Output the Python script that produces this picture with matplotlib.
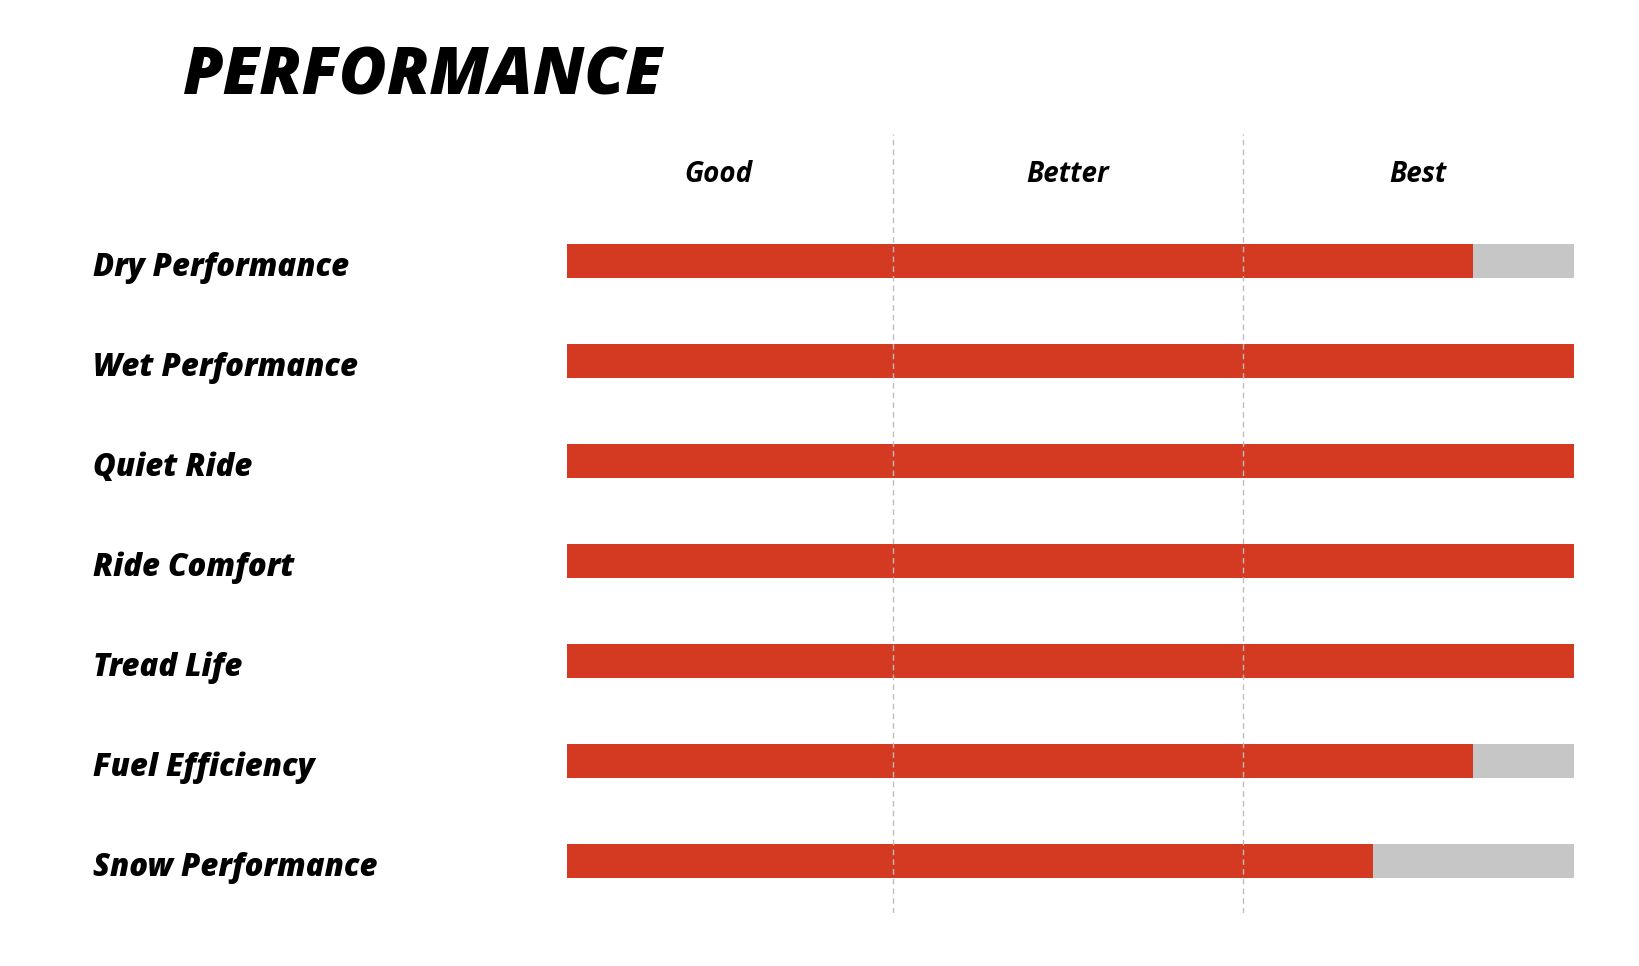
import matplotlib
matplotlib.use("Agg")
import matplotlib.pyplot as plt
from matplotlib.transforms import blended_transform_factory

categories = ["Dry Performance", "Wet Performance", "Quiet Ride", "Ride Comfort",
              "Tread Life", "Fuel Efficiency", "Snow Performance"]
scores = [9, 10, 10, 10, 10, 9, 8]
max_score = 10
levels = ["Good", "Better", "Best"]
level_centers = [1.50, 4.975, 8.45]
dividers = [3.237, 6.713]
title = "PERFORMANCE"

RED = "#D43A22"
GREY = "#C6C6C6"
FONT = "Open Sans"

W, H = 1640, 966
fig = plt.figure(figsize=(W / 100, H / 100), dpi=100)
fig.patch.set_facecolor("white")

ax = fig.add_axes([567 / W, 1 - 913 / H, 1007 / W, (913 - 134) / H])
ax.set_xlim(0, max_score)
ax.set_ylim(6.52, -1.27)
ax.axis("off")

ypos = list(range(len(categories)))
ax.barh(ypos, [max_score] * len(categories), height=0.345, color=GREY, zorder=1)
ax.barh(ypos, scores, height=0.345, color=RED, zorder=2)

for d in dividers:
    ax.axvline(d, ymin=0, ymax=1, color="#BDBDBD", lw=1.0, ls=(0, (4, 3)), zorder=3)

for lab, xc in zip(levels, level_centers):
    ax.text(xc, -0.864, lab, ha="center", va="center", fontsize=20,
            fontfamily=FONT, fontweight="bold", fontstyle="italic", color="black")

trans = blended_transform_factory(fig.transFigure, ax.transData)
for y, lab in zip(ypos, categories):
    fig.text(93 / W, y + 0.15, lab, transform=trans, ha="left", va="baseline",
             fontsize=22.3, fontfamily=FONT, fontweight="heavy", fontstyle="italic",
             color="black")

fig.text(183 / W, 1 - 94.7 / H, title, ha="left", va="baseline", fontsize=47,
         fontfamily=FONT, fontweight="heavy", fontstyle="italic", color="black")

fig.savefig("out.png", dpi=100, facecolor="white")
